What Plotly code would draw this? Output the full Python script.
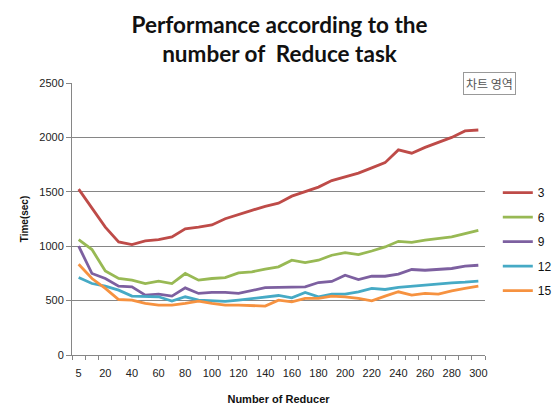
import plotly.graph_objects as go

reducers = [5, 10, 20, 30, 40, 50, 60, 70, 80, 90, 100, 110, 120, 130, 140, 150,
            160, 170, 180, 190, 200, 210, 220, 230, 240, 250, 260, 270, 280, 290, 300]

series_names = ["3", "6", "9", "12", "15"]

time_3 = [1525, 1355, 1175, 1040, 1015, 1048, 1060, 1085, 1160, 1175, 1195, 1252, 1293, 1330, 1366, 1395,
          1460, 1498, 1543, 1603, 1640, 1672, 1720, 1768, 1885, 1855, 1908, 1955, 2000, 2060, 2068]
time_6 = [1060, 969, 773, 703, 688, 657, 679, 657, 749, 688, 703, 712, 755, 764, 790, 810,
          871, 850, 871, 917, 941, 923, 956, 993, 1045, 1036, 1055, 1073, 1085, 1116, 1146]
time_9 = [1000, 749, 703, 633, 626, 550, 559, 541, 617, 566, 575, 575, 566, 590, 619, 621,
          626, 626, 666, 676, 734, 694, 724, 724, 743, 786, 779, 786, 795, 816, 825]
time_12 = [712, 657, 633, 596, 541, 541, 535, 495, 535, 504, 495, 492, 504, 520, 532, 547,
           526, 575, 535, 559, 559, 581, 612, 602, 621, 633, 642, 657, 663, 669, 679]
time_15 = [834, 703, 612, 510, 504, 474, 458, 458, 474, 495, 474, 458, 458, 455, 450, 504,
           489, 520, 520, 541, 535, 520, 498, 541, 581, 550, 566, 559, 590, 612, 633]

all_series = [time_3, time_6, time_9, time_12, time_15]
colors = ["#BE4B48", "#98B954", "#7D60A0", "#46AAC5", "#F69240"]

x_idx = list(range(len(reducers)))
tick_idx = x_idx[::2]
tick_text = [str(reducers[i]) for i in tick_idx]

fig = go.Figure()
for name, vals, col in zip(series_names, all_series, colors):
    fig.add_trace(go.Scatter(
        x=x_idx, y=vals, mode="lines", name=name, legendgroup=name,
        line=dict(color=col, width=2.8),
    ))

axis_col = "#868686"
fig.update_layout(
    width=559, height=415,
    margin=dict(l=72, r=74, t=83, b=60, autoexpand=False),
    paper_bgcolor="white", plot_bgcolor="white",
    font=dict(family="Liberation Sans, Arial, sans-serif", size=11, color="#222"),
    title=dict(
        text="<b>Performance according to the<br>number of&nbsp;&nbsp;Reduce task</b>",
        x=0.5, xanchor="center", y=0.92, yanchor="top",
        font=dict(family="Lato, sans-serif", size=22.5, color="#111"),
    ),
    showlegend=True,
    legend=dict(
        x=1.031, xanchor="left", y=0.650, yanchor="top",
        font=dict(size=12, color="#111"),
        tracegroupgap=5.5, bgcolor="rgba(0,0,0,0)",
    ),
    xaxis=dict(
        range=[-0.5, len(reducers) - 0.5], automargin=False,
        tickmode="array", tickvals=tick_idx, ticktext=tick_text,
        ticks="", showgrid=False, zeroline=False, ticklabelstandoff=8,
        showline=True, linecolor=axis_col, linewidth=1,
        tickfont=dict(size=11, color="#222"),
        minor=dict(tickmode="array",
                   tickvals=[i - 0.5 for i in range(len(reducers) + 1)],
                   ticks="outside", ticklen=4, tickcolor=axis_col, showgrid=False),
        title=dict(text="<b>Number of Reducer</b>", font=dict(size=11, color="#111"), standoff=17),
    ),
    yaxis=dict(
        range=[0, 2500], tickmode="array", tickvals=[0, 500, 1000, 1500, 2000, 2500],
        automargin=False,
        ticks="outside", ticklen=5, tickcolor=axis_col,
        showgrid=True, gridcolor=axis_col, gridwidth=1, zeroline=False,
        showline=True, linecolor=axis_col, linewidth=1,
        tickfont=dict(size=11, color="#222"),
        title=dict(text="<b>Time(sec)</b>", font=dict(size=10, color="#111"), standoff=8),
    ),
    annotations=[dict(
        text="차트 영역", xref="paper", yref="paper", x=1.012, y=1.0,
        xanchor="center", yanchor="middle", showarrow=False,
        font=dict(family="Noto Sans CJK KR", size=12, color="#555"),
        bgcolor="white", bordercolor="#999", borderwidth=1, borderpad=2,
    )],
)

fig.write_html("out.html", config={"displayModeBar": False},
               post_script="document.body.style.margin='0';")
